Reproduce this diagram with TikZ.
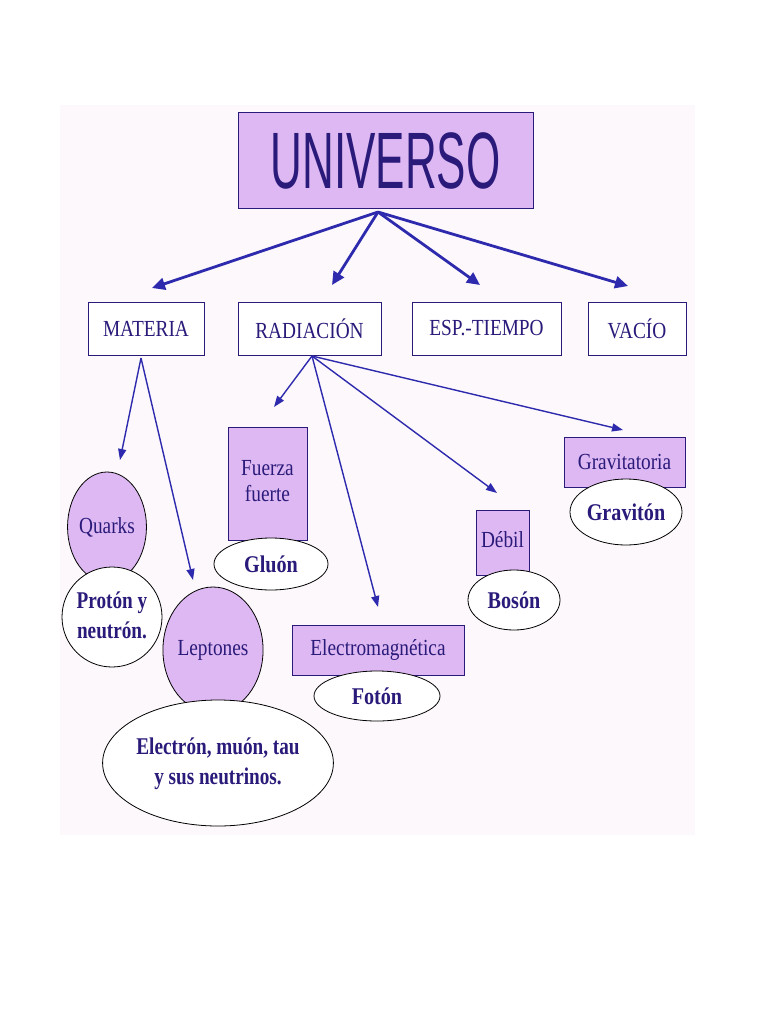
\documentclass[tikz,border=0pt]{standalone}
\usepackage{fontspec}
\setmainfont{Liberation Serif}
\newfontfamily\sansf{Liberation Sans}
\usetikzlibrary{arrows.meta,shapes.geometric}
\definecolor{lav}{HTML}{DDB8F2}
\definecolor{bg}{HTML}{FCF8FB}
\definecolor{navy}{HTML}{2A1A7A}
\definecolor{arr}{HTML}{2E2AAE}
\newcommand{\nar}[1]{\scalebox{0.84}[1]{#1}}
\begin{document}
\begin{tikzpicture}[x=1pt,y=-1pt,
 box/.style={draw=navy,line width=1pt,inner sep=0pt,text=navy,font=\fontsize{23}{26}\selectfont},
 ell/.style={draw=black,line width=0.8pt,ellipse,inner sep=0pt,text=navy},
 bold/.style={font=\bfseries\fontsize{24}{30}\selectfont},
 big/.style={arr,line width=2.8pt,-{Triangle[length=13pt,width=12pt]}},
 thin/.style={arr,line width=1.4pt,-{Triangle[length=11pt,width=8pt]}}]
\useasboundingbox (0,0) rectangle (768,1024);
\fill[white] (0,0) rectangle (768,1024);
\fill[bg] (60,105) rectangle (695,835);
\node[box,fill=lav,minimum width=295,minimum height=96,font=\sansf\fontsize{80}{80}\selectfont] (u) at (385.5,161) {\scalebox{0.55}[1]{UNIVERSO}};
\node[box,fill=white,minimum width=116,minimum height=53] (mat) at (146,328.5) {\nar{MATERIA}};
\node[box,fill=white,minimum width=143,minimum height=53] (rad) at (309.5,328.5) {\nar{RADIACIÓN}};
\node[box,fill=white,minimum width=149,minimum height=53] (esp) at (486.5,328.5) {\nar{ESP.-TIEMPO}};
\node[box,fill=white,minimum width=98,minimum height=53] (vac) at (637,328.5) {\nar{VACÍO}};
\node[ell,fill=lav,minimum width=74,minimum height=110,font=\fontsize{23}{26}\selectfont] (qk) at (107,527) {\raisebox{3pt}{\nar{Quarks}}};
\node[ell,fill=white,minimum width=100,minimum height=100,bold] (pn) at (112,617) {\scalebox{0.8}[1]{\begin{tabular}{@{}c@{}}Protón y\\neutrón.\end{tabular}}};
\node[ell,fill=lav,minimum width=94,minimum height=126,font=\fontsize{23}{26}\selectfont] (lep) at (213,650) {\raisebox{-4pt}{\nar{Leptones}}};
\node[ell,fill=white,minimum width=216,minimum height=126,bold] (el) at (218,763) {\scalebox{0.8}[1]{\begin{tabular}{@{}c@{}}Electrón, muón, tau\\y sus neutrinos.\end{tabular}}};
\node[box,fill=lav,minimum width=79,minimum height=113] (ff) at (267.5,483.5) {\raisebox{14pt}{\nar{\begin{tabular}{@{}c@{}}Fuerza\\fuerte\end{tabular}}}};
\node[ell,fill=white,minimum width=114,minimum height=52,bold] (gl) at (271,564) {\nar{Gluón}};
\node[box,fill=lav,minimum width=172,minimum height=50] (em) at (378,650) {\nar{Electromagnética}};
\node[ell,fill=white,minimum width=126,minimum height=50,bold] (fo) at (377,696) {\nar{Fotón}};
\node[box,fill=lav,minimum width=53,minimum height=65] (de) at (502.5,542.5) {\raisebox{6pt}{\nar{Débil}}};
\node[ell,fill=white,minimum width=92,minimum height=60,bold] (bo) at (514,600) {\nar{Bosón}};
\node[box,fill=lav,minimum width=121,minimum height=50] (gr) at (624.5,462) {\nar{Gravitatoria}};
\node[ell,fill=white,minimum width=112,minimum height=66,bold] (gv) at (626,512) {\nar{Gravitón}};
\coordinate (us) at (378,212);
\draw[big] (us) -- (152,288);
\draw[big] (us) -- (332,285);
\draw[big] (us) -- (480,285);
\draw[big] (us) -- (628,286);
\coordinate (ms) at (141,358);
\draw[thin] (ms) -- (120,460);
\draw[thin] (ms) -- (193,580);
\coordinate (rs) at (312,356);
\draw[thin] (rs) -- (274,407);
\draw[thin] (rs) -- (378,607);
\draw[thin] (rs) -- (497,493);
\draw[thin] (rs) -- (623,430);
\end{tikzpicture}
\end{document}
